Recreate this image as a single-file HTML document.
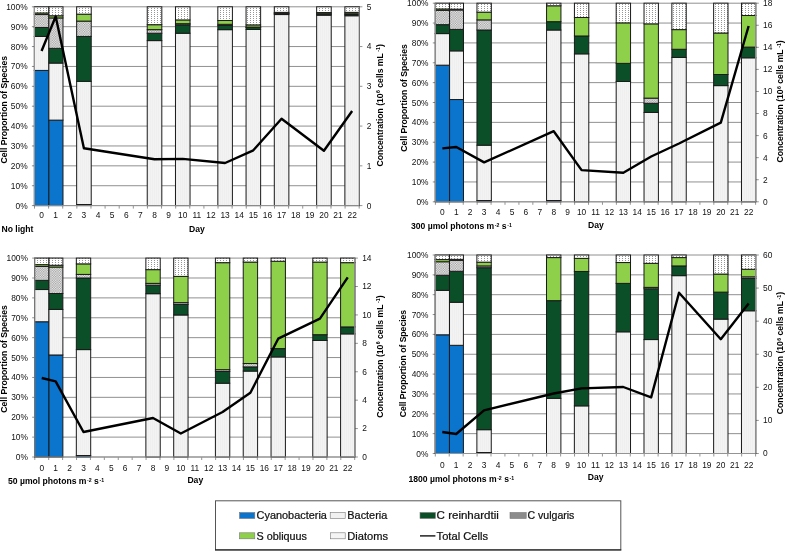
<!DOCTYPE html>
<html lang="en"><head><meta charset="utf-8"><title>Cell proportion of species</title>
<style>
html,body{margin:0;padding:0;background:#fff}
body{width:785px;height:551px;overflow:hidden}
svg{display:block}
svg text{font-family:"Liberation Sans",sans-serif;fill:#222}
.t{font-size:8.4px;fill:#111}
.b{font-size:8.6px;font-weight:bold;fill:#000}
.l{font-size:10.4px;fill:#111;stroke:#111;stroke-width:0.22px}
</style></head><body>
<svg width="785" height="551" viewBox="0 0 785 551">
<defs>
<pattern id="pb" width="2" height="2" patternUnits="userSpaceOnUse"><rect width="2" height="2" fill="#f3f3f3"/><rect width="0.6" height="2" fill="#ededed"/></pattern>
<pattern id="pv" width="2.4" height="2.4" patternUnits="userSpaceOnUse"><rect width="2.4" height="2.4" fill="#f0f0f0"/><rect width="1.2" height="1.2" fill="#9c9c9c"/><rect x="1.2" y="1.2" width="1.2" height="1.2" fill="#9c9c9c"/></pattern>
<pattern id="pd" width="3" height="2" patternUnits="userSpaceOnUse"><rect width="3" height="2" fill="#fff"/><rect x="1" y="0" width="1" height="1" fill="#969696"/></pattern>
</defs>
<rect width="785" height="551" fill="#fff"/>
<g id="p1">
<line x1="31.9" x2="359.2" y1="205.6" y2="205.6" stroke="#909090" stroke-width="1"/>
<line x1="31.9" x2="359.2" y1="185.72" y2="185.72" stroke="#909090" stroke-width="1"/>
<line x1="31.9" x2="359.2" y1="165.84" y2="165.84" stroke="#909090" stroke-width="1"/>
<line x1="31.9" x2="359.2" y1="145.96" y2="145.96" stroke="#909090" stroke-width="1"/>
<line x1="31.9" x2="359.2" y1="126.08" y2="126.08" stroke="#909090" stroke-width="1"/>
<line x1="31.9" x2="359.2" y1="106.2" y2="106.2" stroke="#909090" stroke-width="1"/>
<line x1="31.9" x2="359.2" y1="86.32" y2="86.32" stroke="#909090" stroke-width="1"/>
<line x1="31.9" x2="359.2" y1="66.44" y2="66.44" stroke="#909090" stroke-width="1"/>
<line x1="31.9" x2="359.2" y1="46.56" y2="46.56" stroke="#909090" stroke-width="1"/>
<line x1="31.9" x2="359.2" y1="26.68" y2="26.68" stroke="#909090" stroke-width="1"/>
<line x1="31.9" x2="359.2" y1="6.8" y2="6.8" stroke="#909090" stroke-width="1"/>
<line x1="34.5" x2="34.5" y1="205.6" y2="208.6" stroke="#949494" stroke-width="1"/>
<line x1="48.62" x2="48.62" y1="205.6" y2="208.6" stroke="#949494" stroke-width="1"/>
<line x1="62.73" x2="62.73" y1="205.6" y2="208.6" stroke="#949494" stroke-width="1"/>
<line x1="76.85" x2="76.85" y1="205.6" y2="208.6" stroke="#949494" stroke-width="1"/>
<line x1="90.97" x2="90.97" y1="205.6" y2="208.6" stroke="#949494" stroke-width="1"/>
<line x1="105.09" x2="105.09" y1="205.6" y2="208.6" stroke="#949494" stroke-width="1"/>
<line x1="119.2" x2="119.2" y1="205.6" y2="208.6" stroke="#949494" stroke-width="1"/>
<line x1="133.32" x2="133.32" y1="205.6" y2="208.6" stroke="#949494" stroke-width="1"/>
<line x1="147.44" x2="147.44" y1="205.6" y2="208.6" stroke="#949494" stroke-width="1"/>
<line x1="161.56" x2="161.56" y1="205.6" y2="208.6" stroke="#949494" stroke-width="1"/>
<line x1="175.67" x2="175.67" y1="205.6" y2="208.6" stroke="#949494" stroke-width="1"/>
<line x1="189.79" x2="189.79" y1="205.6" y2="208.6" stroke="#949494" stroke-width="1"/>
<line x1="203.91" x2="203.91" y1="205.6" y2="208.6" stroke="#949494" stroke-width="1"/>
<line x1="218.03" x2="218.03" y1="205.6" y2="208.6" stroke="#949494" stroke-width="1"/>
<line x1="232.14" x2="232.14" y1="205.6" y2="208.6" stroke="#949494" stroke-width="1"/>
<line x1="246.26" x2="246.26" y1="205.6" y2="208.6" stroke="#949494" stroke-width="1"/>
<line x1="260.38" x2="260.38" y1="205.6" y2="208.6" stroke="#949494" stroke-width="1"/>
<line x1="274.5" x2="274.5" y1="205.6" y2="208.6" stroke="#949494" stroke-width="1"/>
<line x1="288.61" x2="288.61" y1="205.6" y2="208.6" stroke="#949494" stroke-width="1"/>
<line x1="302.73" x2="302.73" y1="205.6" y2="208.6" stroke="#949494" stroke-width="1"/>
<line x1="316.85" x2="316.85" y1="205.6" y2="208.6" stroke="#949494" stroke-width="1"/>
<line x1="330.97" x2="330.97" y1="205.6" y2="208.6" stroke="#949494" stroke-width="1"/>
<line x1="345.08" x2="345.08" y1="205.6" y2="208.6" stroke="#949494" stroke-width="1"/>
<line x1="359.2" x2="359.2" y1="205.6" y2="208.6" stroke="#949494" stroke-width="1"/>
<line x1="359.2" x2="362.4" y1="205.6" y2="205.6" stroke="#949494" stroke-width="1"/>
<text x="366.7" y="208.5" class="t">0</text>
<line x1="359.2" x2="362.4" y1="165.84" y2="165.84" stroke="#949494" stroke-width="1"/>
<text x="366.7" y="168.74" class="t">1</text>
<line x1="359.2" x2="362.4" y1="126.08" y2="126.08" stroke="#949494" stroke-width="1"/>
<text x="366.7" y="128.98" class="t">2</text>
<line x1="359.2" x2="362.4" y1="86.32" y2="86.32" stroke="#949494" stroke-width="1"/>
<text x="366.7" y="89.22" class="t">3</text>
<line x1="359.2" x2="362.4" y1="46.56" y2="46.56" stroke="#949494" stroke-width="1"/>
<text x="366.7" y="49.46" class="t">4</text>
<line x1="359.2" x2="362.4" y1="6.8" y2="6.8" stroke="#949494" stroke-width="1"/>
<text x="366.7" y="9.7" class="t">5</text>
<text x="27.6" y="208.6" class="t" text-anchor="end">0%</text>
<text x="27.6" y="188.72" class="t" text-anchor="end">10%</text>
<text x="27.6" y="168.84" class="t" text-anchor="end">20%</text>
<text x="27.6" y="148.96" class="t" text-anchor="end">30%</text>
<text x="27.6" y="129.08" class="t" text-anchor="end">40%</text>
<text x="27.6" y="109.2" class="t" text-anchor="end">50%</text>
<text x="27.6" y="89.32" class="t" text-anchor="end">60%</text>
<text x="27.6" y="69.44" class="t" text-anchor="end">70%</text>
<text x="27.6" y="49.56" class="t" text-anchor="end">80%</text>
<text x="27.6" y="29.68" class="t" text-anchor="end">90%</text>
<text x="27.6" y="9.8" class="t" text-anchor="end">100%</text>
<text x="41.56" y="218.4" class="t" text-anchor="middle">0</text>
<text x="55.68" y="218.4" class="t" text-anchor="middle">1</text>
<text x="69.79" y="218.4" class="t" text-anchor="middle">2</text>
<text x="83.91" y="218.4" class="t" text-anchor="middle">3</text>
<text x="98.03" y="218.4" class="t" text-anchor="middle">4</text>
<text x="112.15" y="218.4" class="t" text-anchor="middle">5</text>
<text x="126.26" y="218.4" class="t" text-anchor="middle">6</text>
<text x="140.38" y="218.4" class="t" text-anchor="middle">7</text>
<text x="154.5" y="218.4" class="t" text-anchor="middle">8</text>
<text x="168.62" y="218.4" class="t" text-anchor="middle">9</text>
<text x="182.73" y="218.4" class="t" text-anchor="middle">10</text>
<text x="196.85" y="218.4" class="t" text-anchor="middle">11</text>
<text x="210.97" y="218.4" class="t" text-anchor="middle">12</text>
<text x="225.08" y="218.4" class="t" text-anchor="middle">13</text>
<text x="239.2" y="218.4" class="t" text-anchor="middle">14</text>
<text x="253.32" y="218.4" class="t" text-anchor="middle">15</text>
<text x="267.44" y="218.4" class="t" text-anchor="middle">16</text>
<text x="281.55" y="218.4" class="t" text-anchor="middle">17</text>
<text x="295.67" y="218.4" class="t" text-anchor="middle">18</text>
<text x="309.79" y="218.4" class="t" text-anchor="middle">19</text>
<text x="323.91" y="218.4" class="t" text-anchor="middle">20</text>
<text x="338.02" y="218.4" class="t" text-anchor="middle">21</text>
<text x="352.14" y="218.4" class="t" text-anchor="middle">22</text>
<rect x="34.3" y="70.42" width="14.57" height="135.18" fill="#0b74cc" stroke="#1a1a1a" stroke-width="1.0"/>
<rect x="34.3" y="36.42" width="14.57" height="33.99" fill="url(#pb)" stroke="#1a1a1a" stroke-width="1.0"/>
<rect x="34.3" y="27.48" width="14.57" height="8.95" fill="#0a4f27" stroke="#1a1a1a" stroke-width="1.0"/>
<rect x="34.3" y="14.55" width="14.57" height="12.92" fill="url(#pv)" stroke="#1a1a1a" stroke-width="1.0"/>
<rect x="34.3" y="12.96" width="14.57" height="1.59" fill="#8fd04a" stroke="#1a1a1a" stroke-width="1.0"/>
<rect x="34.3" y="6.8" width="14.57" height="6.16" fill="url(#pd)" stroke="#1a1a1a" stroke-width="1.0"/>
<rect x="48.87" y="120.12" width="14.12" height="85.48" fill="#0b74cc" stroke="#1a1a1a" stroke-width="1.0"/>
<rect x="48.87" y="63.06" width="14.12" height="57.06" fill="url(#pb)" stroke="#1a1a1a" stroke-width="1.0"/>
<rect x="48.87" y="48.35" width="14.12" height="14.71" fill="#0a4f27" stroke="#1a1a1a" stroke-width="1.0"/>
<rect x="48.87" y="17.93" width="14.12" height="30.42" fill="url(#pv)" stroke="#1a1a1a" stroke-width="1.0"/>
<rect x="48.87" y="15.75" width="14.12" height="2.19" fill="#8fd04a" stroke="#1a1a1a" stroke-width="1.0"/>
<rect x="48.87" y="6.8" width="14.12" height="8.95" fill="url(#pd)" stroke="#1a1a1a" stroke-width="1.0"/>
<rect x="76.65" y="204.51" width="14.57" height="1.09" fill="#0b74cc" stroke="#1a1a1a" stroke-width="1.0"/>
<rect x="76.65" y="81.35" width="14.57" height="123.16" fill="url(#pb)" stroke="#1a1a1a" stroke-width="1.0"/>
<rect x="76.65" y="36.42" width="14.57" height="44.93" fill="#0a4f27" stroke="#1a1a1a" stroke-width="1.0"/>
<rect x="76.65" y="21.11" width="14.57" height="15.31" fill="url(#pv)" stroke="#1a1a1a" stroke-width="1.0"/>
<rect x="76.65" y="14.16" width="14.57" height="6.96" fill="#8fd04a" stroke="#1a1a1a" stroke-width="1.0"/>
<rect x="76.65" y="6.8" width="14.57" height="7.36" fill="url(#pd)" stroke="#1a1a1a" stroke-width="1.0"/>
<rect x="147.24" y="40.6" width="14.57" height="165" fill="url(#pb)" stroke="#1a1a1a" stroke-width="1.0"/>
<rect x="147.24" y="33.24" width="14.57" height="7.36" fill="#0a4f27" stroke="#1a1a1a" stroke-width="1.0"/>
<rect x="147.24" y="29.66" width="14.57" height="3.58" fill="url(#pv)" stroke="#1a1a1a" stroke-width="1.0"/>
<rect x="147.24" y="24.69" width="14.57" height="4.97" fill="#8fd04a" stroke="#1a1a1a" stroke-width="1.0"/>
<rect x="147.24" y="6.8" width="14.57" height="17.89" fill="url(#pd)" stroke="#1a1a1a" stroke-width="1.0"/>
<rect x="175.47" y="33.24" width="14.57" height="172.36" fill="url(#pb)" stroke="#1a1a1a" stroke-width="1.0"/>
<rect x="175.47" y="24.89" width="14.57" height="8.35" fill="#0a4f27" stroke="#1a1a1a" stroke-width="1.0"/>
<rect x="175.47" y="23.7" width="14.57" height="1.19" fill="url(#pv)" stroke="#1a1a1a" stroke-width="1.0"/>
<rect x="175.47" y="19.92" width="14.57" height="3.78" fill="#8fd04a" stroke="#1a1a1a" stroke-width="1.0"/>
<rect x="175.47" y="6.8" width="14.57" height="13.12" fill="url(#pd)" stroke="#1a1a1a" stroke-width="1.0"/>
<rect x="217.83" y="29.66" width="14.57" height="175.94" fill="url(#pb)" stroke="#1a1a1a" stroke-width="1.0"/>
<rect x="217.83" y="25.49" width="14.57" height="4.17" fill="#0a4f27" stroke="#1a1a1a" stroke-width="1.0"/>
<rect x="217.83" y="24.29" width="14.57" height="1.19" fill="url(#pv)" stroke="#1a1a1a" stroke-width="1.0"/>
<rect x="217.83" y="20.52" width="14.57" height="3.78" fill="#8fd04a" stroke="#1a1a1a" stroke-width="1.0"/>
<rect x="217.83" y="6.8" width="14.57" height="13.72" fill="url(#pd)" stroke="#1a1a1a" stroke-width="1.0"/>
<rect x="246.06" y="29.46" width="14.57" height="176.14" fill="url(#pb)" stroke="#1a1a1a" stroke-width="1.0"/>
<rect x="246.06" y="27.48" width="14.57" height="1.99" fill="#0a4f27" stroke="#1a1a1a" stroke-width="1.0"/>
<rect x="246.06" y="27.08" width="14.57" height="0.4" fill="url(#pv)" stroke="#1a1a1a" stroke-width="1.0"/>
<rect x="246.06" y="24.89" width="14.57" height="2.19" fill="#8fd04a" stroke="#1a1a1a" stroke-width="1.0"/>
<rect x="246.06" y="6.8" width="14.57" height="18.09" fill="url(#pd)" stroke="#1a1a1a" stroke-width="1.0"/>
<rect x="274.3" y="14.55" width="14.57" height="191.05" fill="url(#pb)" stroke="#1a1a1a" stroke-width="1.0"/>
<rect x="274.3" y="13.56" width="14.57" height="0.99" fill="#0a4f27" stroke="#1a1a1a" stroke-width="1.0"/>
<rect x="274.3" y="13.16" width="14.57" height="0.4" fill="url(#pv)" stroke="#1a1a1a" stroke-width="1.0"/>
<rect x="274.3" y="12.37" width="14.57" height="0.8" fill="#8fd04a" stroke="#1a1a1a" stroke-width="1.0"/>
<rect x="274.3" y="6.8" width="14.57" height="5.57" fill="url(#pd)" stroke="#1a1a1a" stroke-width="1.0"/>
<rect x="316.65" y="15.15" width="14.57" height="190.45" fill="url(#pb)" stroke="#1a1a1a" stroke-width="1.0"/>
<rect x="316.65" y="14.16" width="14.57" height="0.99" fill="#0a4f27" stroke="#1a1a1a" stroke-width="1.0"/>
<rect x="316.65" y="13.76" width="14.57" height="0.4" fill="url(#pv)" stroke="#1a1a1a" stroke-width="1.0"/>
<rect x="316.65" y="12.57" width="14.57" height="1.19" fill="#8fd04a" stroke="#1a1a1a" stroke-width="1.0"/>
<rect x="316.65" y="6.8" width="14.57" height="5.77" fill="url(#pd)" stroke="#1a1a1a" stroke-width="1.0"/>
<rect x="344.88" y="15.75" width="14.57" height="189.85" fill="url(#pb)" stroke="#1a1a1a" stroke-width="1.0"/>
<rect x="344.88" y="14.55" width="14.57" height="1.19" fill="#0a4f27" stroke="#1a1a1a" stroke-width="1.0"/>
<rect x="344.88" y="13.76" width="14.57" height="0.8" fill="url(#pv)" stroke="#1a1a1a" stroke-width="1.0"/>
<rect x="344.88" y="12.37" width="14.57" height="1.39" fill="#8fd04a" stroke="#1a1a1a" stroke-width="1.0"/>
<rect x="344.88" y="6.8" width="14.57" height="5.57" fill="url(#pd)" stroke="#1a1a1a" stroke-width="1.0"/>
<line x1="34.5" x2="34.5" y1="6.8" y2="205.6" stroke="#949494" stroke-width="1"/>
<line x1="359.2" x2="359.2" y1="6.8" y2="205.6" stroke="#949494" stroke-width="1"/>
<line x1="34.5" x2="359.2" y1="205.6" y2="205.6" stroke="#949494" stroke-width="1"/>
<polyline points="41.56,51 55.68,16.5 83.91,148.2 154.5,159.2 182.73,158.9 225.08,163 253.32,150.3 281.55,118.7 323.91,150.8 352.14,111" fill="none" stroke="#000" stroke-width="2.4" stroke-linejoin="round" stroke-linecap="butt"/>
<text transform="translate(6.6,109.7) rotate(-90)" class="b" text-anchor="middle">Cell Proportion of Species</text>
<text transform="translate(382.9,105.3) rotate(-90)" class="b" text-anchor="middle">Concentration (10<tspan dy="-2.5" dx="0.4" font-size="5.2">6</tspan><tspan dy="2.5"> cells mL</tspan><tspan dy="-2.5" dx="1.6" font-size="5.2">-1</tspan><tspan dy="2.5">)</tspan></text>
<text x="1.5" y="232.2" class="b">No light</text>
<text x="197" y="231.9" class="b" text-anchor="middle">Day</text>
</g>
<g id="p2">
<line x1="432.8" x2="755.6" y1="201.8" y2="201.8" stroke="#909090" stroke-width="1"/>
<line x1="432.8" x2="755.6" y1="181.94" y2="181.94" stroke="#909090" stroke-width="1"/>
<line x1="432.8" x2="755.6" y1="162.08" y2="162.08" stroke="#909090" stroke-width="1"/>
<line x1="432.8" x2="755.6" y1="142.22" y2="142.22" stroke="#909090" stroke-width="1"/>
<line x1="432.8" x2="755.6" y1="122.36" y2="122.36" stroke="#909090" stroke-width="1"/>
<line x1="432.8" x2="755.6" y1="102.5" y2="102.5" stroke="#909090" stroke-width="1"/>
<line x1="432.8" x2="755.6" y1="82.64" y2="82.64" stroke="#909090" stroke-width="1"/>
<line x1="432.8" x2="755.6" y1="62.78" y2="62.78" stroke="#909090" stroke-width="1"/>
<line x1="432.8" x2="755.6" y1="42.92" y2="42.92" stroke="#909090" stroke-width="1"/>
<line x1="432.8" x2="755.6" y1="23.06" y2="23.06" stroke="#909090" stroke-width="1"/>
<line x1="432.8" x2="755.6" y1="3.2" y2="3.2" stroke="#909090" stroke-width="1"/>
<line x1="435.4" x2="435.4" y1="201.8" y2="204.8" stroke="#949494" stroke-width="1"/>
<line x1="449.32" x2="449.32" y1="201.8" y2="204.8" stroke="#949494" stroke-width="1"/>
<line x1="463.24" x2="463.24" y1="201.8" y2="204.8" stroke="#949494" stroke-width="1"/>
<line x1="477.17" x2="477.17" y1="201.8" y2="204.8" stroke="#949494" stroke-width="1"/>
<line x1="491.09" x2="491.09" y1="201.8" y2="204.8" stroke="#949494" stroke-width="1"/>
<line x1="505.01" x2="505.01" y1="201.8" y2="204.8" stroke="#949494" stroke-width="1"/>
<line x1="518.93" x2="518.93" y1="201.8" y2="204.8" stroke="#949494" stroke-width="1"/>
<line x1="532.85" x2="532.85" y1="201.8" y2="204.8" stroke="#949494" stroke-width="1"/>
<line x1="546.77" x2="546.77" y1="201.8" y2="204.8" stroke="#949494" stroke-width="1"/>
<line x1="560.7" x2="560.7" y1="201.8" y2="204.8" stroke="#949494" stroke-width="1"/>
<line x1="574.62" x2="574.62" y1="201.8" y2="204.8" stroke="#949494" stroke-width="1"/>
<line x1="588.54" x2="588.54" y1="201.8" y2="204.8" stroke="#949494" stroke-width="1"/>
<line x1="602.46" x2="602.46" y1="201.8" y2="204.8" stroke="#949494" stroke-width="1"/>
<line x1="616.38" x2="616.38" y1="201.8" y2="204.8" stroke="#949494" stroke-width="1"/>
<line x1="630.3" x2="630.3" y1="201.8" y2="204.8" stroke="#949494" stroke-width="1"/>
<line x1="644.23" x2="644.23" y1="201.8" y2="204.8" stroke="#949494" stroke-width="1"/>
<line x1="658.15" x2="658.15" y1="201.8" y2="204.8" stroke="#949494" stroke-width="1"/>
<line x1="672.07" x2="672.07" y1="201.8" y2="204.8" stroke="#949494" stroke-width="1"/>
<line x1="685.99" x2="685.99" y1="201.8" y2="204.8" stroke="#949494" stroke-width="1"/>
<line x1="699.91" x2="699.91" y1="201.8" y2="204.8" stroke="#949494" stroke-width="1"/>
<line x1="713.83" x2="713.83" y1="201.8" y2="204.8" stroke="#949494" stroke-width="1"/>
<line x1="727.76" x2="727.76" y1="201.8" y2="204.8" stroke="#949494" stroke-width="1"/>
<line x1="741.68" x2="741.68" y1="201.8" y2="204.8" stroke="#949494" stroke-width="1"/>
<line x1="755.6" x2="755.6" y1="201.8" y2="204.8" stroke="#949494" stroke-width="1"/>
<line x1="755.6" x2="758.8" y1="201.8" y2="201.8" stroke="#949494" stroke-width="1"/>
<text x="763.1" y="204.7" class="t">0</text>
<line x1="755.6" x2="758.8" y1="179.73" y2="179.73" stroke="#949494" stroke-width="1"/>
<text x="763.1" y="182.63" class="t">2</text>
<line x1="755.6" x2="758.8" y1="157.67" y2="157.67" stroke="#949494" stroke-width="1"/>
<text x="763.1" y="160.57" class="t">4</text>
<line x1="755.6" x2="758.8" y1="135.6" y2="135.6" stroke="#949494" stroke-width="1"/>
<text x="763.1" y="138.5" class="t">6</text>
<line x1="755.6" x2="758.8" y1="113.53" y2="113.53" stroke="#949494" stroke-width="1"/>
<text x="763.1" y="116.43" class="t">8</text>
<line x1="755.6" x2="758.8" y1="91.47" y2="91.47" stroke="#949494" stroke-width="1"/>
<text x="763.1" y="94.37" class="t">10</text>
<line x1="755.6" x2="758.8" y1="69.4" y2="69.4" stroke="#949494" stroke-width="1"/>
<text x="763.1" y="72.3" class="t">12</text>
<line x1="755.6" x2="758.8" y1="47.33" y2="47.33" stroke="#949494" stroke-width="1"/>
<text x="763.1" y="50.23" class="t">14</text>
<line x1="755.6" x2="758.8" y1="25.27" y2="25.27" stroke="#949494" stroke-width="1"/>
<text x="763.1" y="28.17" class="t">16</text>
<line x1="755.6" x2="758.8" y1="3.2" y2="3.2" stroke="#949494" stroke-width="1"/>
<text x="763.1" y="6.1" class="t">18</text>
<text x="428.5" y="204.8" class="t" text-anchor="end">0%</text>
<text x="428.5" y="184.94" class="t" text-anchor="end">10%</text>
<text x="428.5" y="165.08" class="t" text-anchor="end">20%</text>
<text x="428.5" y="145.22" class="t" text-anchor="end">30%</text>
<text x="428.5" y="125.36" class="t" text-anchor="end">40%</text>
<text x="428.5" y="105.5" class="t" text-anchor="end">50%</text>
<text x="428.5" y="85.64" class="t" text-anchor="end">60%</text>
<text x="428.5" y="65.78" class="t" text-anchor="end">70%</text>
<text x="428.5" y="45.92" class="t" text-anchor="end">80%</text>
<text x="428.5" y="26.06" class="t" text-anchor="end">90%</text>
<text x="428.5" y="6.2" class="t" text-anchor="end">100%</text>
<text x="442.36" y="215" class="t" text-anchor="middle">0</text>
<text x="456.28" y="215" class="t" text-anchor="middle">1</text>
<text x="470.2" y="215" class="t" text-anchor="middle">2</text>
<text x="484.13" y="215" class="t" text-anchor="middle">3</text>
<text x="498.05" y="215" class="t" text-anchor="middle">4</text>
<text x="511.97" y="215" class="t" text-anchor="middle">5</text>
<text x="525.89" y="215" class="t" text-anchor="middle">6</text>
<text x="539.81" y="215" class="t" text-anchor="middle">7</text>
<text x="553.73" y="215" class="t" text-anchor="middle">8</text>
<text x="567.66" y="215" class="t" text-anchor="middle">9</text>
<text x="581.58" y="215" class="t" text-anchor="middle">10</text>
<text x="595.5" y="215" class="t" text-anchor="middle">11</text>
<text x="609.42" y="215" class="t" text-anchor="middle">12</text>
<text x="623.34" y="215" class="t" text-anchor="middle">13</text>
<text x="637.27" y="215" class="t" text-anchor="middle">14</text>
<text x="651.19" y="215" class="t" text-anchor="middle">15</text>
<text x="665.11" y="215" class="t" text-anchor="middle">16</text>
<text x="679.03" y="215" class="t" text-anchor="middle">17</text>
<text x="692.95" y="215" class="t" text-anchor="middle">18</text>
<text x="706.87" y="215" class="t" text-anchor="middle">19</text>
<text x="720.8" y="215" class="t" text-anchor="middle">20</text>
<text x="734.72" y="215" class="t" text-anchor="middle">21</text>
<text x="748.64" y="215" class="t" text-anchor="middle">22</text>
<rect x="435.2" y="65.16" width="14.37" height="136.64" fill="#0b74cc" stroke="#1a1a1a" stroke-width="1.0"/>
<rect x="435.2" y="33.59" width="14.37" height="31.58" fill="url(#pb)" stroke="#1a1a1a" stroke-width="1.0"/>
<rect x="435.2" y="24.65" width="14.37" height="8.94" fill="#0a4f27" stroke="#1a1a1a" stroke-width="1.0"/>
<rect x="435.2" y="10.35" width="14.37" height="14.3" fill="url(#pv)" stroke="#1a1a1a" stroke-width="1.0"/>
<rect x="435.2" y="8.96" width="14.37" height="1.39" fill="#8fd04a" stroke="#1a1a1a" stroke-width="1.0"/>
<rect x="435.2" y="3.2" width="14.37" height="5.76" fill="url(#pd)" stroke="#1a1a1a" stroke-width="1.0"/>
<rect x="449.57" y="99.52" width="13.92" height="102.28" fill="#0b74cc" stroke="#1a1a1a" stroke-width="1.0"/>
<rect x="449.57" y="50.86" width="13.92" height="48.66" fill="url(#pb)" stroke="#1a1a1a" stroke-width="1.0"/>
<rect x="449.57" y="29.42" width="13.92" height="21.45" fill="#0a4f27" stroke="#1a1a1a" stroke-width="1.0"/>
<rect x="449.57" y="9.95" width="13.92" height="19.46" fill="url(#pv)" stroke="#1a1a1a" stroke-width="1.0"/>
<rect x="449.57" y="9.16" width="13.92" height="0.79" fill="#8fd04a" stroke="#1a1a1a" stroke-width="1.0"/>
<rect x="449.57" y="3.2" width="13.92" height="5.96" fill="url(#pd)" stroke="#1a1a1a" stroke-width="1.0"/>
<rect x="476.97" y="200.51" width="14.37" height="1.29" fill="#0b74cc" stroke="#1a1a1a" stroke-width="1.0"/>
<rect x="476.97" y="145.2" width="14.37" height="55.31" fill="url(#pb)" stroke="#1a1a1a" stroke-width="1.0"/>
<rect x="476.97" y="30.01" width="14.37" height="115.19" fill="#0a4f27" stroke="#1a1a1a" stroke-width="1.0"/>
<rect x="476.97" y="19.88" width="14.37" height="10.13" fill="url(#pv)" stroke="#1a1a1a" stroke-width="1.0"/>
<rect x="476.97" y="12.14" width="14.37" height="7.75" fill="#8fd04a" stroke="#1a1a1a" stroke-width="1.0"/>
<rect x="476.97" y="3.2" width="14.37" height="8.94" fill="url(#pd)" stroke="#1a1a1a" stroke-width="1.0"/>
<rect x="546.57" y="200.51" width="14.37" height="1.29" fill="#0b74cc" stroke="#1a1a1a" stroke-width="1.0"/>
<rect x="546.57" y="30.01" width="14.37" height="170.5" fill="url(#pb)" stroke="#1a1a1a" stroke-width="1.0"/>
<rect x="546.57" y="21.67" width="14.37" height="8.34" fill="#0a4f27" stroke="#1a1a1a" stroke-width="1.0"/>
<rect x="546.57" y="5.78" width="14.37" height="15.89" fill="#8fd04a" stroke="#1a1a1a" stroke-width="1.0"/>
<rect x="546.57" y="3.2" width="14.37" height="2.58" fill="url(#pd)" stroke="#1a1a1a" stroke-width="1.0"/>
<rect x="574.42" y="53.84" width="14.37" height="147.96" fill="url(#pb)" stroke="#1a1a1a" stroke-width="1.0"/>
<rect x="574.42" y="35.97" width="14.37" height="17.87" fill="#0a4f27" stroke="#1a1a1a" stroke-width="1.0"/>
<rect x="574.42" y="17.5" width="14.37" height="18.47" fill="#8fd04a" stroke="#1a1a1a" stroke-width="1.0"/>
<rect x="574.42" y="3.2" width="14.37" height="14.3" fill="url(#pd)" stroke="#1a1a1a" stroke-width="1.0"/>
<rect x="616.18" y="81.45" width="14.37" height="120.35" fill="url(#pb)" stroke="#1a1a1a" stroke-width="1.0"/>
<rect x="616.18" y="63.38" width="14.37" height="18.07" fill="#0a4f27" stroke="#1a1a1a" stroke-width="1.0"/>
<rect x="616.18" y="22.86" width="14.37" height="40.51" fill="#8fd04a" stroke="#1a1a1a" stroke-width="1.0"/>
<rect x="616.18" y="3.2" width="14.37" height="19.66" fill="url(#pd)" stroke="#1a1a1a" stroke-width="1.0"/>
<rect x="644.03" y="112.43" width="14.37" height="89.37" fill="url(#pb)" stroke="#1a1a1a" stroke-width="1.0"/>
<rect x="644.03" y="103.29" width="14.37" height="9.14" fill="#0a4f27" stroke="#1a1a1a" stroke-width="1.0"/>
<rect x="644.03" y="98.13" width="14.37" height="5.16" fill="url(#pv)" stroke="#1a1a1a" stroke-width="1.0"/>
<rect x="644.03" y="23.85" width="14.37" height="74.28" fill="#8fd04a" stroke="#1a1a1a" stroke-width="1.0"/>
<rect x="644.03" y="3.2" width="14.37" height="20.65" fill="url(#pd)" stroke="#1a1a1a" stroke-width="1.0"/>
<rect x="671.87" y="57.42" width="14.37" height="144.38" fill="url(#pb)" stroke="#1a1a1a" stroke-width="1.0"/>
<rect x="671.87" y="49.28" width="14.37" height="8.14" fill="#0a4f27" stroke="#1a1a1a" stroke-width="1.0"/>
<rect x="671.87" y="29.61" width="14.37" height="19.66" fill="#8fd04a" stroke="#1a1a1a" stroke-width="1.0"/>
<rect x="671.87" y="3.2" width="14.37" height="26.41" fill="url(#pd)" stroke="#1a1a1a" stroke-width="1.0"/>
<rect x="713.63" y="85.62" width="14.37" height="116.18" fill="url(#pb)" stroke="#1a1a1a" stroke-width="1.0"/>
<rect x="713.63" y="74.5" width="14.37" height="11.12" fill="#0a4f27" stroke="#1a1a1a" stroke-width="1.0"/>
<rect x="713.63" y="32.99" width="14.37" height="41.51" fill="#8fd04a" stroke="#1a1a1a" stroke-width="1.0"/>
<rect x="713.63" y="3.2" width="14.37" height="29.79" fill="url(#pd)" stroke="#1a1a1a" stroke-width="1.0"/>
<rect x="741.48" y="57.81" width="14.37" height="143.99" fill="url(#pb)" stroke="#1a1a1a" stroke-width="1.0"/>
<rect x="741.48" y="47.09" width="14.37" height="10.72" fill="#0a4f27" stroke="#1a1a1a" stroke-width="1.0"/>
<rect x="741.48" y="15.51" width="14.37" height="31.58" fill="#8fd04a" stroke="#1a1a1a" stroke-width="1.0"/>
<rect x="741.48" y="3.2" width="14.37" height="12.31" fill="url(#pd)" stroke="#1a1a1a" stroke-width="1.0"/>
<line x1="435.4" x2="435.4" y1="3.2" y2="201.8" stroke="#949494" stroke-width="1"/>
<line x1="755.6" x2="755.6" y1="3.2" y2="201.8" stroke="#949494" stroke-width="1"/>
<line x1="435.4" x2="755.6" y1="201.8" y2="201.8" stroke="#949494" stroke-width="1"/>
<polyline points="442.36,148.4 456.28,147 484.13,162.4 553.73,131.2 581.58,170.1 623.34,172.8 651.19,156.5 679.03,143.5 720.8,122.6 748.64,26" fill="none" stroke="#000" stroke-width="2.4" stroke-linejoin="round" stroke-linecap="butt"/>
<text transform="translate(406.9,98) rotate(-90)" class="b" text-anchor="middle">Cell Proportion of Species</text>
<text transform="translate(783,101.4) rotate(-90)" class="b" text-anchor="middle">Concentration (10<tspan dy="-2.5" dx="0.4" font-size="5.2">6</tspan><tspan dy="2.5"> cells mL</tspan><tspan dy="-2.5" dx="1.6" font-size="5.2">-1</tspan><tspan dy="2.5">)</tspan></text>
<text x="411" y="229.2" class="b">300 µmol photons m<tspan dy="-2.6" font-size="5.2" dx="0.6">-2</tspan><tspan dy="2.6"> s</tspan><tspan dy="-2.6" font-size="5.2" dx="0.6">-1</tspan></text>
<text x="596" y="228.1" class="b" text-anchor="middle">Day</text>
</g>
<g id="p3">
<line x1="32.2" x2="354.7" y1="457" y2="457" stroke="#909090" stroke-width="1"/>
<line x1="32.2" x2="354.7" y1="437.11" y2="437.11" stroke="#909090" stroke-width="1"/>
<line x1="32.2" x2="354.7" y1="417.22" y2="417.22" stroke="#909090" stroke-width="1"/>
<line x1="32.2" x2="354.7" y1="397.33" y2="397.33" stroke="#909090" stroke-width="1"/>
<line x1="32.2" x2="354.7" y1="377.44" y2="377.44" stroke="#909090" stroke-width="1"/>
<line x1="32.2" x2="354.7" y1="357.55" y2="357.55" stroke="#909090" stroke-width="1"/>
<line x1="32.2" x2="354.7" y1="337.66" y2="337.66" stroke="#909090" stroke-width="1"/>
<line x1="32.2" x2="354.7" y1="317.77" y2="317.77" stroke="#909090" stroke-width="1"/>
<line x1="32.2" x2="354.7" y1="297.88" y2="297.88" stroke="#909090" stroke-width="1"/>
<line x1="32.2" x2="354.7" y1="277.99" y2="277.99" stroke="#909090" stroke-width="1"/>
<line x1="32.2" x2="354.7" y1="258.1" y2="258.1" stroke="#909090" stroke-width="1"/>
<line x1="34.8" x2="34.8" y1="457" y2="460" stroke="#949494" stroke-width="1"/>
<line x1="48.71" x2="48.71" y1="457" y2="460" stroke="#949494" stroke-width="1"/>
<line x1="62.62" x2="62.62" y1="457" y2="460" stroke="#949494" stroke-width="1"/>
<line x1="76.53" x2="76.53" y1="457" y2="460" stroke="#949494" stroke-width="1"/>
<line x1="90.43" x2="90.43" y1="457" y2="460" stroke="#949494" stroke-width="1"/>
<line x1="104.34" x2="104.34" y1="457" y2="460" stroke="#949494" stroke-width="1"/>
<line x1="118.25" x2="118.25" y1="457" y2="460" stroke="#949494" stroke-width="1"/>
<line x1="132.16" x2="132.16" y1="457" y2="460" stroke="#949494" stroke-width="1"/>
<line x1="146.07" x2="146.07" y1="457" y2="460" stroke="#949494" stroke-width="1"/>
<line x1="159.98" x2="159.98" y1="457" y2="460" stroke="#949494" stroke-width="1"/>
<line x1="173.89" x2="173.89" y1="457" y2="460" stroke="#949494" stroke-width="1"/>
<line x1="187.8" x2="187.8" y1="457" y2="460" stroke="#949494" stroke-width="1"/>
<line x1="201.7" x2="201.7" y1="457" y2="460" stroke="#949494" stroke-width="1"/>
<line x1="215.61" x2="215.61" y1="457" y2="460" stroke="#949494" stroke-width="1"/>
<line x1="229.52" x2="229.52" y1="457" y2="460" stroke="#949494" stroke-width="1"/>
<line x1="243.43" x2="243.43" y1="457" y2="460" stroke="#949494" stroke-width="1"/>
<line x1="257.34" x2="257.34" y1="457" y2="460" stroke="#949494" stroke-width="1"/>
<line x1="271.25" x2="271.25" y1="457" y2="460" stroke="#949494" stroke-width="1"/>
<line x1="285.16" x2="285.16" y1="457" y2="460" stroke="#949494" stroke-width="1"/>
<line x1="299.07" x2="299.07" y1="457" y2="460" stroke="#949494" stroke-width="1"/>
<line x1="312.97" x2="312.97" y1="457" y2="460" stroke="#949494" stroke-width="1"/>
<line x1="326.88" x2="326.88" y1="457" y2="460" stroke="#949494" stroke-width="1"/>
<line x1="340.79" x2="340.79" y1="457" y2="460" stroke="#949494" stroke-width="1"/>
<line x1="354.7" x2="354.7" y1="457" y2="460" stroke="#949494" stroke-width="1"/>
<line x1="354.7" x2="357.9" y1="457" y2="457" stroke="#949494" stroke-width="1"/>
<text x="362.2" y="459.9" class="t">0</text>
<line x1="354.7" x2="357.9" y1="428.59" y2="428.59" stroke="#949494" stroke-width="1"/>
<text x="362.2" y="431.49" class="t">2</text>
<line x1="354.7" x2="357.9" y1="400.17" y2="400.17" stroke="#949494" stroke-width="1"/>
<text x="362.2" y="403.07" class="t">4</text>
<line x1="354.7" x2="357.9" y1="371.76" y2="371.76" stroke="#949494" stroke-width="1"/>
<text x="362.2" y="374.66" class="t">6</text>
<line x1="354.7" x2="357.9" y1="343.34" y2="343.34" stroke="#949494" stroke-width="1"/>
<text x="362.2" y="346.24" class="t">8</text>
<line x1="354.7" x2="357.9" y1="314.93" y2="314.93" stroke="#949494" stroke-width="1"/>
<text x="362.2" y="317.83" class="t">10</text>
<line x1="354.7" x2="357.9" y1="286.51" y2="286.51" stroke="#949494" stroke-width="1"/>
<text x="362.2" y="289.41" class="t">12</text>
<line x1="354.7" x2="357.9" y1="258.1" y2="258.1" stroke="#949494" stroke-width="1"/>
<text x="362.2" y="261" class="t">14</text>
<text x="27.9" y="460" class="t" text-anchor="end">0%</text>
<text x="27.9" y="440.11" class="t" text-anchor="end">10%</text>
<text x="27.9" y="420.22" class="t" text-anchor="end">20%</text>
<text x="27.9" y="400.33" class="t" text-anchor="end">30%</text>
<text x="27.9" y="380.44" class="t" text-anchor="end">40%</text>
<text x="27.9" y="360.55" class="t" text-anchor="end">50%</text>
<text x="27.9" y="340.66" class="t" text-anchor="end">60%</text>
<text x="27.9" y="320.77" class="t" text-anchor="end">70%</text>
<text x="27.9" y="300.88" class="t" text-anchor="end">80%</text>
<text x="27.9" y="280.99" class="t" text-anchor="end">90%</text>
<text x="27.9" y="261.1" class="t" text-anchor="end">100%</text>
<text x="41.75" y="470.5" class="t" text-anchor="middle">0</text>
<text x="55.66" y="470.5" class="t" text-anchor="middle">1</text>
<text x="69.57" y="470.5" class="t" text-anchor="middle">2</text>
<text x="83.48" y="470.5" class="t" text-anchor="middle">3</text>
<text x="97.39" y="470.5" class="t" text-anchor="middle">4</text>
<text x="111.3" y="470.5" class="t" text-anchor="middle">5</text>
<text x="125.21" y="470.5" class="t" text-anchor="middle">6</text>
<text x="139.12" y="470.5" class="t" text-anchor="middle">7</text>
<text x="153.02" y="470.5" class="t" text-anchor="middle">8</text>
<text x="166.93" y="470.5" class="t" text-anchor="middle">9</text>
<text x="180.84" y="470.5" class="t" text-anchor="middle">10</text>
<text x="194.75" y="470.5" class="t" text-anchor="middle">11</text>
<text x="208.66" y="470.5" class="t" text-anchor="middle">12</text>
<text x="222.57" y="470.5" class="t" text-anchor="middle">13</text>
<text x="236.48" y="470.5" class="t" text-anchor="middle">14</text>
<text x="250.38" y="470.5" class="t" text-anchor="middle">15</text>
<text x="264.29" y="470.5" class="t" text-anchor="middle">16</text>
<text x="278.2" y="470.5" class="t" text-anchor="middle">17</text>
<text x="292.11" y="470.5" class="t" text-anchor="middle">18</text>
<text x="306.02" y="470.5" class="t" text-anchor="middle">19</text>
<text x="319.93" y="470.5" class="t" text-anchor="middle">20</text>
<text x="333.84" y="470.5" class="t" text-anchor="middle">21</text>
<text x="347.75" y="470.5" class="t" text-anchor="middle">22</text>
<rect x="34.6" y="321.75" width="14.36" height="135.25" fill="#0b74cc" stroke="#1a1a1a" stroke-width="1.0"/>
<rect x="34.6" y="289.53" width="14.36" height="32.22" fill="url(#pb)" stroke="#1a1a1a" stroke-width="1.0"/>
<rect x="34.6" y="280.38" width="14.36" height="9.15" fill="#0a4f27" stroke="#1a1a1a" stroke-width="1.0"/>
<rect x="34.6" y="266.45" width="14.36" height="13.92" fill="url(#pv)" stroke="#1a1a1a" stroke-width="1.0"/>
<rect x="34.6" y="264.66" width="14.36" height="1.79" fill="#8fd04a" stroke="#1a1a1a" stroke-width="1.0"/>
<rect x="34.6" y="258.1" width="14.36" height="6.56" fill="url(#pd)" stroke="#1a1a1a" stroke-width="1.0"/>
<rect x="48.96" y="354.96" width="13.91" height="102.04" fill="#0b74cc" stroke="#1a1a1a" stroke-width="1.0"/>
<rect x="48.96" y="309.42" width="13.91" height="45.55" fill="url(#pb)" stroke="#1a1a1a" stroke-width="1.0"/>
<rect x="48.96" y="293.5" width="13.91" height="15.91" fill="#0a4f27" stroke="#1a1a1a" stroke-width="1.0"/>
<rect x="48.96" y="267.05" width="13.91" height="26.45" fill="url(#pv)" stroke="#1a1a1a" stroke-width="1.0"/>
<rect x="48.96" y="265.26" width="13.91" height="1.79" fill="#8fd04a" stroke="#1a1a1a" stroke-width="1.0"/>
<rect x="48.96" y="258.1" width="13.91" height="7.16" fill="url(#pd)" stroke="#1a1a1a" stroke-width="1.0"/>
<rect x="76.33" y="455.51" width="14.36" height="1.49" fill="#0b74cc" stroke="#1a1a1a" stroke-width="1.0"/>
<rect x="76.33" y="349.59" width="14.36" height="105.91" fill="url(#pb)" stroke="#1a1a1a" stroke-width="1.0"/>
<rect x="76.33" y="277.99" width="14.36" height="71.6" fill="#0a4f27" stroke="#1a1a1a" stroke-width="1.0"/>
<rect x="76.33" y="274.41" width="14.36" height="3.58" fill="url(#pv)" stroke="#1a1a1a" stroke-width="1.0"/>
<rect x="76.33" y="263.87" width="14.36" height="10.54" fill="#8fd04a" stroke="#1a1a1a" stroke-width="1.0"/>
<rect x="76.33" y="258.1" width="14.36" height="5.77" fill="url(#pd)" stroke="#1a1a1a" stroke-width="1.0"/>
<rect x="145.87" y="293.7" width="14.36" height="163.3" fill="url(#pb)" stroke="#1a1a1a" stroke-width="1.0"/>
<rect x="145.87" y="285.15" width="14.36" height="8.55" fill="#0a4f27" stroke="#1a1a1a" stroke-width="1.0"/>
<rect x="145.87" y="283.36" width="14.36" height="1.79" fill="url(#pv)" stroke="#1a1a1a" stroke-width="1.0"/>
<rect x="145.87" y="269.64" width="14.36" height="13.72" fill="#8fd04a" stroke="#1a1a1a" stroke-width="1.0"/>
<rect x="145.87" y="258.1" width="14.36" height="11.54" fill="url(#pd)" stroke="#1a1a1a" stroke-width="1.0"/>
<rect x="173.69" y="314.99" width="14.36" height="142.01" fill="url(#pb)" stroke="#1a1a1a" stroke-width="1.0"/>
<rect x="173.69" y="304.44" width="14.36" height="10.54" fill="#0a4f27" stroke="#1a1a1a" stroke-width="1.0"/>
<rect x="173.69" y="302.65" width="14.36" height="1.79" fill="url(#pv)" stroke="#1a1a1a" stroke-width="1.0"/>
<rect x="173.69" y="276.4" width="14.36" height="26.25" fill="#8fd04a" stroke="#1a1a1a" stroke-width="1.0"/>
<rect x="173.69" y="258.1" width="14.36" height="18.3" fill="url(#pd)" stroke="#1a1a1a" stroke-width="1.0"/>
<rect x="215.41" y="383.21" width="14.36" height="73.79" fill="url(#pb)" stroke="#1a1a1a" stroke-width="1.0"/>
<rect x="215.41" y="371.47" width="14.36" height="11.74" fill="#0a4f27" stroke="#1a1a1a" stroke-width="1.0"/>
<rect x="215.41" y="369.68" width="14.36" height="1.79" fill="url(#pv)" stroke="#1a1a1a" stroke-width="1.0"/>
<rect x="215.41" y="262.67" width="14.36" height="107.01" fill="#8fd04a" stroke="#1a1a1a" stroke-width="1.0"/>
<rect x="215.41" y="258.1" width="14.36" height="4.57" fill="url(#pd)" stroke="#1a1a1a" stroke-width="1.0"/>
<rect x="243.23" y="371.08" width="14.36" height="85.92" fill="url(#pb)" stroke="#1a1a1a" stroke-width="1.0"/>
<rect x="243.23" y="366.9" width="14.36" height="4.18" fill="#0a4f27" stroke="#1a1a1a" stroke-width="1.0"/>
<rect x="243.23" y="363.52" width="14.36" height="3.38" fill="url(#pv)" stroke="#1a1a1a" stroke-width="1.0"/>
<rect x="243.23" y="262.08" width="14.36" height="101.44" fill="#8fd04a" stroke="#1a1a1a" stroke-width="1.0"/>
<rect x="243.23" y="258.1" width="14.36" height="3.98" fill="url(#pd)" stroke="#1a1a1a" stroke-width="1.0"/>
<rect x="271.05" y="356.95" width="14.36" height="100.05" fill="url(#pb)" stroke="#1a1a1a" stroke-width="1.0"/>
<rect x="271.05" y="348.6" width="14.36" height="8.35" fill="#0a4f27" stroke="#1a1a1a" stroke-width="1.0"/>
<rect x="271.05" y="261.28" width="14.36" height="87.32" fill="#8fd04a" stroke="#1a1a1a" stroke-width="1.0"/>
<rect x="271.05" y="258.1" width="14.36" height="3.18" fill="url(#pd)" stroke="#1a1a1a" stroke-width="1.0"/>
<rect x="312.77" y="340.44" width="14.36" height="116.56" fill="url(#pb)" stroke="#1a1a1a" stroke-width="1.0"/>
<rect x="312.77" y="334.68" width="14.36" height="5.77" fill="#0a4f27" stroke="#1a1a1a" stroke-width="1.0"/>
<rect x="312.77" y="262.08" width="14.36" height="72.6" fill="#8fd04a" stroke="#1a1a1a" stroke-width="1.0"/>
<rect x="312.77" y="258.1" width="14.36" height="3.98" fill="url(#pd)" stroke="#1a1a1a" stroke-width="1.0"/>
<rect x="340.59" y="333.88" width="14.36" height="123.12" fill="url(#pb)" stroke="#1a1a1a" stroke-width="1.0"/>
<rect x="340.59" y="326.92" width="14.36" height="6.96" fill="#0a4f27" stroke="#1a1a1a" stroke-width="1.0"/>
<rect x="340.59" y="262.67" width="14.36" height="64.24" fill="#8fd04a" stroke="#1a1a1a" stroke-width="1.0"/>
<rect x="340.59" y="258.1" width="14.36" height="4.57" fill="url(#pd)" stroke="#1a1a1a" stroke-width="1.0"/>
<line x1="34.8" x2="34.8" y1="258.1" y2="457" stroke="#949494" stroke-width="1"/>
<line x1="354.7" x2="354.7" y1="258.1" y2="457" stroke="#949494" stroke-width="1"/>
<line x1="34.8" x2="354.7" y1="457" y2="457" stroke="#949494" stroke-width="1"/>
<polyline points="41.75,378 55.66,381.4 83.48,432 153.02,418 180.84,433.5 222.57,412 250.38,392.7 278.2,338.7 319.93,318.7 347.75,277.3" fill="none" stroke="#000" stroke-width="2.4" stroke-linejoin="round" stroke-linecap="butt"/>
<text transform="translate(6.7,359) rotate(-90)" class="b" text-anchor="middle">Cell Proportion of Species</text>
<text transform="translate(382.6,356.6) rotate(-90)" class="b" text-anchor="middle">Concentration (10<tspan dy="-2.5" dx="0.4" font-size="5.2">6</tspan><tspan dy="2.5"> cells mL</tspan><tspan dy="-2.5" dx="1.6" font-size="5.2">-1</tspan><tspan dy="2.5">)</tspan></text>
<text x="8" y="484.4" class="b">50 µmol photons m<tspan dy="-2.6" font-size="5.2" dx="0.6">-2</tspan><tspan dy="2.6"> s</tspan><tspan dy="-2.6" font-size="5.2" dx="0.6">-1</tspan></text>
<text x="195.3" y="483.4" class="b" text-anchor="middle">Day</text>
</g>
<g id="p4">
<line x1="432.7" x2="755.6" y1="453.5" y2="453.5" stroke="#909090" stroke-width="1"/>
<line x1="432.7" x2="755.6" y1="433.65" y2="433.65" stroke="#909090" stroke-width="1"/>
<line x1="432.7" x2="755.6" y1="413.8" y2="413.8" stroke="#909090" stroke-width="1"/>
<line x1="432.7" x2="755.6" y1="393.95" y2="393.95" stroke="#909090" stroke-width="1"/>
<line x1="432.7" x2="755.6" y1="374.1" y2="374.1" stroke="#909090" stroke-width="1"/>
<line x1="432.7" x2="755.6" y1="354.25" y2="354.25" stroke="#909090" stroke-width="1"/>
<line x1="432.7" x2="755.6" y1="334.4" y2="334.4" stroke="#909090" stroke-width="1"/>
<line x1="432.7" x2="755.6" y1="314.55" y2="314.55" stroke="#909090" stroke-width="1"/>
<line x1="432.7" x2="755.6" y1="294.7" y2="294.7" stroke="#909090" stroke-width="1"/>
<line x1="432.7" x2="755.6" y1="274.85" y2="274.85" stroke="#909090" stroke-width="1"/>
<line x1="432.7" x2="755.6" y1="255" y2="255" stroke="#909090" stroke-width="1"/>
<line x1="435.3" x2="435.3" y1="453.5" y2="456.5" stroke="#949494" stroke-width="1"/>
<line x1="449.23" x2="449.23" y1="453.5" y2="456.5" stroke="#949494" stroke-width="1"/>
<line x1="463.15" x2="463.15" y1="453.5" y2="456.5" stroke="#949494" stroke-width="1"/>
<line x1="477.08" x2="477.08" y1="453.5" y2="456.5" stroke="#949494" stroke-width="1"/>
<line x1="491" x2="491" y1="453.5" y2="456.5" stroke="#949494" stroke-width="1"/>
<line x1="504.93" x2="504.93" y1="453.5" y2="456.5" stroke="#949494" stroke-width="1"/>
<line x1="518.86" x2="518.86" y1="453.5" y2="456.5" stroke="#949494" stroke-width="1"/>
<line x1="532.78" x2="532.78" y1="453.5" y2="456.5" stroke="#949494" stroke-width="1"/>
<line x1="546.71" x2="546.71" y1="453.5" y2="456.5" stroke="#949494" stroke-width="1"/>
<line x1="560.63" x2="560.63" y1="453.5" y2="456.5" stroke="#949494" stroke-width="1"/>
<line x1="574.56" x2="574.56" y1="453.5" y2="456.5" stroke="#949494" stroke-width="1"/>
<line x1="588.49" x2="588.49" y1="453.5" y2="456.5" stroke="#949494" stroke-width="1"/>
<line x1="602.41" x2="602.41" y1="453.5" y2="456.5" stroke="#949494" stroke-width="1"/>
<line x1="616.34" x2="616.34" y1="453.5" y2="456.5" stroke="#949494" stroke-width="1"/>
<line x1="630.27" x2="630.27" y1="453.5" y2="456.5" stroke="#949494" stroke-width="1"/>
<line x1="644.19" x2="644.19" y1="453.5" y2="456.5" stroke="#949494" stroke-width="1"/>
<line x1="658.12" x2="658.12" y1="453.5" y2="456.5" stroke="#949494" stroke-width="1"/>
<line x1="672.04" x2="672.04" y1="453.5" y2="456.5" stroke="#949494" stroke-width="1"/>
<line x1="685.97" x2="685.97" y1="453.5" y2="456.5" stroke="#949494" stroke-width="1"/>
<line x1="699.9" x2="699.9" y1="453.5" y2="456.5" stroke="#949494" stroke-width="1"/>
<line x1="713.82" x2="713.82" y1="453.5" y2="456.5" stroke="#949494" stroke-width="1"/>
<line x1="727.75" x2="727.75" y1="453.5" y2="456.5" stroke="#949494" stroke-width="1"/>
<line x1="741.67" x2="741.67" y1="453.5" y2="456.5" stroke="#949494" stroke-width="1"/>
<line x1="755.6" x2="755.6" y1="453.5" y2="456.5" stroke="#949494" stroke-width="1"/>
<line x1="755.6" x2="758.8" y1="453.5" y2="453.5" stroke="#949494" stroke-width="1"/>
<text x="763.1" y="456.4" class="t">0</text>
<line x1="755.6" x2="758.8" y1="420.42" y2="420.42" stroke="#949494" stroke-width="1"/>
<text x="763.1" y="423.32" class="t">10</text>
<line x1="755.6" x2="758.8" y1="387.33" y2="387.33" stroke="#949494" stroke-width="1"/>
<text x="763.1" y="390.23" class="t">20</text>
<line x1="755.6" x2="758.8" y1="354.25" y2="354.25" stroke="#949494" stroke-width="1"/>
<text x="763.1" y="357.15" class="t">30</text>
<line x1="755.6" x2="758.8" y1="321.17" y2="321.17" stroke="#949494" stroke-width="1"/>
<text x="763.1" y="324.07" class="t">40</text>
<line x1="755.6" x2="758.8" y1="288.08" y2="288.08" stroke="#949494" stroke-width="1"/>
<text x="763.1" y="290.98" class="t">50</text>
<line x1="755.6" x2="758.8" y1="255" y2="255" stroke="#949494" stroke-width="1"/>
<text x="763.1" y="257.9" class="t">60</text>
<text x="428.4" y="456.5" class="t" text-anchor="end">0%</text>
<text x="428.4" y="436.65" class="t" text-anchor="end">10%</text>
<text x="428.4" y="416.8" class="t" text-anchor="end">20%</text>
<text x="428.4" y="396.95" class="t" text-anchor="end">30%</text>
<text x="428.4" y="377.1" class="t" text-anchor="end">40%</text>
<text x="428.4" y="357.25" class="t" text-anchor="end">50%</text>
<text x="428.4" y="337.4" class="t" text-anchor="end">60%</text>
<text x="428.4" y="317.55" class="t" text-anchor="end">70%</text>
<text x="428.4" y="297.7" class="t" text-anchor="end">80%</text>
<text x="428.4" y="277.85" class="t" text-anchor="end">90%</text>
<text x="428.4" y="258" class="t" text-anchor="end">100%</text>
<text x="442.26" y="467.7" class="t" text-anchor="middle">0</text>
<text x="456.19" y="467.7" class="t" text-anchor="middle">1</text>
<text x="470.12" y="467.7" class="t" text-anchor="middle">2</text>
<text x="484.04" y="467.7" class="t" text-anchor="middle">3</text>
<text x="497.97" y="467.7" class="t" text-anchor="middle">4</text>
<text x="511.89" y="467.7" class="t" text-anchor="middle">5</text>
<text x="525.82" y="467.7" class="t" text-anchor="middle">6</text>
<text x="539.75" y="467.7" class="t" text-anchor="middle">7</text>
<text x="553.67" y="467.7" class="t" text-anchor="middle">8</text>
<text x="567.6" y="467.7" class="t" text-anchor="middle">9</text>
<text x="581.52" y="467.7" class="t" text-anchor="middle">10</text>
<text x="595.45" y="467.7" class="t" text-anchor="middle">11</text>
<text x="609.38" y="467.7" class="t" text-anchor="middle">12</text>
<text x="623.3" y="467.7" class="t" text-anchor="middle">13</text>
<text x="637.23" y="467.7" class="t" text-anchor="middle">14</text>
<text x="651.15" y="467.7" class="t" text-anchor="middle">15</text>
<text x="665.08" y="467.7" class="t" text-anchor="middle">16</text>
<text x="679.01" y="467.7" class="t" text-anchor="middle">17</text>
<text x="692.93" y="467.7" class="t" text-anchor="middle">18</text>
<text x="706.86" y="467.7" class="t" text-anchor="middle">19</text>
<text x="720.78" y="467.7" class="t" text-anchor="middle">20</text>
<text x="734.71" y="467.7" class="t" text-anchor="middle">21</text>
<text x="748.64" y="467.7" class="t" text-anchor="middle">22</text>
<rect x="435.1" y="334.8" width="14.38" height="118.7" fill="#0b74cc" stroke="#1a1a1a" stroke-width="1.0"/>
<rect x="435.1" y="290.33" width="14.38" height="44.46" fill="url(#pb)" stroke="#1a1a1a" stroke-width="1.0"/>
<rect x="435.1" y="275.25" width="14.38" height="15.09" fill="#0a4f27" stroke="#1a1a1a" stroke-width="1.0"/>
<rect x="435.1" y="261.75" width="14.38" height="13.5" fill="url(#pv)" stroke="#1a1a1a" stroke-width="1.0"/>
<rect x="435.1" y="259.57" width="14.38" height="2.18" fill="#8fd04a" stroke="#1a1a1a" stroke-width="1.0"/>
<rect x="435.1" y="255" width="14.38" height="4.57" fill="url(#pd)" stroke="#1a1a1a" stroke-width="1.0"/>
<rect x="449.48" y="345.32" width="13.93" height="108.18" fill="#0b74cc" stroke="#1a1a1a" stroke-width="1.0"/>
<rect x="449.48" y="302.24" width="13.93" height="43.07" fill="url(#pb)" stroke="#1a1a1a" stroke-width="1.0"/>
<rect x="449.48" y="271.28" width="13.93" height="30.97" fill="#0a4f27" stroke="#1a1a1a" stroke-width="1.0"/>
<rect x="449.48" y="260.36" width="13.93" height="10.92" fill="url(#pv)" stroke="#1a1a1a" stroke-width="1.0"/>
<rect x="449.48" y="259.37" width="13.93" height="0.99" fill="#8fd04a" stroke="#1a1a1a" stroke-width="1.0"/>
<rect x="449.48" y="255" width="13.93" height="4.37" fill="url(#pd)" stroke="#1a1a1a" stroke-width="1.0"/>
<rect x="476.88" y="452.51" width="14.38" height="0.99" fill="#0b74cc" stroke="#1a1a1a" stroke-width="1.0"/>
<rect x="476.88" y="429.68" width="14.38" height="22.83" fill="url(#pb)" stroke="#1a1a1a" stroke-width="1.0"/>
<rect x="476.88" y="267.7" width="14.38" height="161.98" fill="#0a4f27" stroke="#1a1a1a" stroke-width="1.0"/>
<rect x="476.88" y="265.92" width="14.38" height="1.79" fill="url(#pv)" stroke="#1a1a1a" stroke-width="1.0"/>
<rect x="476.88" y="262.15" width="14.38" height="3.77" fill="#8fd04a" stroke="#1a1a1a" stroke-width="1.0"/>
<rect x="476.88" y="255" width="14.38" height="7.15" fill="url(#pd)" stroke="#1a1a1a" stroke-width="1.0"/>
<rect x="546.51" y="398.32" width="14.38" height="55.18" fill="url(#pb)" stroke="#1a1a1a" stroke-width="1.0"/>
<rect x="546.51" y="300.65" width="14.38" height="97.66" fill="#0a4f27" stroke="#1a1a1a" stroke-width="1.0"/>
<rect x="546.51" y="257.58" width="14.38" height="43.07" fill="#8fd04a" stroke="#1a1a1a" stroke-width="1.0"/>
<rect x="546.51" y="255" width="14.38" height="2.58" fill="url(#pd)" stroke="#1a1a1a" stroke-width="1.0"/>
<rect x="574.36" y="405.86" width="14.38" height="47.64" fill="url(#pb)" stroke="#1a1a1a" stroke-width="1.0"/>
<rect x="574.36" y="271.48" width="14.38" height="134.38" fill="#0a4f27" stroke="#1a1a1a" stroke-width="1.0"/>
<rect x="574.36" y="258.37" width="14.38" height="13.1" fill="#8fd04a" stroke="#1a1a1a" stroke-width="1.0"/>
<rect x="574.36" y="255" width="14.38" height="3.37" fill="url(#pd)" stroke="#1a1a1a" stroke-width="1.0"/>
<rect x="616.14" y="331.82" width="14.38" height="121.68" fill="url(#pb)" stroke="#1a1a1a" stroke-width="1.0"/>
<rect x="616.14" y="283.39" width="14.38" height="48.43" fill="#0a4f27" stroke="#1a1a1a" stroke-width="1.0"/>
<rect x="616.14" y="262.54" width="14.38" height="20.84" fill="#8fd04a" stroke="#1a1a1a" stroke-width="1.0"/>
<rect x="616.14" y="255" width="14.38" height="7.54" fill="url(#pd)" stroke="#1a1a1a" stroke-width="1.0"/>
<rect x="643.99" y="339.56" width="14.38" height="113.94" fill="url(#pb)" stroke="#1a1a1a" stroke-width="1.0"/>
<rect x="643.99" y="288.75" width="14.38" height="50.82" fill="#0a4f27" stroke="#1a1a1a" stroke-width="1.0"/>
<rect x="643.99" y="287.36" width="14.38" height="1.39" fill="url(#pv)" stroke="#1a1a1a" stroke-width="1.0"/>
<rect x="643.99" y="263.34" width="14.38" height="24.02" fill="#8fd04a" stroke="#1a1a1a" stroke-width="1.0"/>
<rect x="643.99" y="255" width="14.38" height="8.34" fill="url(#pd)" stroke="#1a1a1a" stroke-width="1.0"/>
<rect x="671.84" y="275.64" width="14.38" height="177.86" fill="url(#pb)" stroke="#1a1a1a" stroke-width="1.0"/>
<rect x="671.84" y="265.92" width="14.38" height="9.73" fill="#0a4f27" stroke="#1a1a1a" stroke-width="1.0"/>
<rect x="671.84" y="257.58" width="14.38" height="8.34" fill="#8fd04a" stroke="#1a1a1a" stroke-width="1.0"/>
<rect x="671.84" y="255" width="14.38" height="2.58" fill="url(#pd)" stroke="#1a1a1a" stroke-width="1.0"/>
<rect x="713.62" y="319.12" width="14.38" height="134.38" fill="url(#pb)" stroke="#1a1a1a" stroke-width="1.0"/>
<rect x="713.62" y="292.12" width="14.38" height="27" fill="#0a4f27" stroke="#1a1a1a" stroke-width="1.0"/>
<rect x="713.62" y="274.06" width="14.38" height="18.06" fill="#8fd04a" stroke="#1a1a1a" stroke-width="1.0"/>
<rect x="713.62" y="255" width="14.38" height="19.06" fill="url(#pd)" stroke="#1a1a1a" stroke-width="1.0"/>
<rect x="741.47" y="310.78" width="14.38" height="142.72" fill="url(#pb)" stroke="#1a1a1a" stroke-width="1.0"/>
<rect x="741.47" y="278.42" width="14.38" height="32.36" fill="#0a4f27" stroke="#1a1a1a" stroke-width="1.0"/>
<rect x="741.47" y="276.84" width="14.38" height="1.59" fill="url(#pv)" stroke="#1a1a1a" stroke-width="1.0"/>
<rect x="741.47" y="269.29" width="14.38" height="7.54" fill="#8fd04a" stroke="#1a1a1a" stroke-width="1.0"/>
<rect x="741.47" y="255" width="14.38" height="14.29" fill="url(#pd)" stroke="#1a1a1a" stroke-width="1.0"/>
<line x1="435.3" x2="435.3" y1="255" y2="453.5" stroke="#949494" stroke-width="1"/>
<line x1="755.6" x2="755.6" y1="255" y2="453.5" stroke="#949494" stroke-width="1"/>
<line x1="435.3" x2="755.6" y1="453.5" y2="453.5" stroke="#949494" stroke-width="1"/>
<polyline points="442.26,432 456.19,434 484.04,410.4 553.67,393.5 581.52,388.4 623.3,387 651.15,397.4 679.01,292.7 720.78,339.2 748.64,303.5" fill="none" stroke="#000" stroke-width="2.4" stroke-linejoin="round" stroke-linecap="butt"/>
<text transform="translate(406.3,363.6) rotate(-90)" class="b" text-anchor="middle">Cell Proportion of Species</text>
<text transform="translate(783,353.1) rotate(-90)" class="b" text-anchor="middle">Concentration (10<tspan dy="-2.5" dx="0.4" font-size="5.2">6</tspan><tspan dy="2.5"> cells mL</tspan><tspan dy="-2.5" dx="1.6" font-size="5.2">-1</tspan><tspan dy="2.5">)</tspan></text>
<text x="408.5" y="482.4" class="b">1800 µmol photons m<tspan dy="-2.6" font-size="5.2" dx="0.6">-2</tspan><tspan dy="2.6"> s</tspan><tspan dy="-2.6" font-size="5.2" dx="0.6">-1</tspan></text>
<text x="595.7" y="479.6" class="b" text-anchor="middle">Day</text>
</g>
<g id="legend">
<rect x="215.5" y="500.8" width="405.3" height="49" fill="#fff" stroke="#555" stroke-width="1"/>
<line x1="215" x2="621.3" y1="550" y2="550" stroke="#111" stroke-width="1.2"/>
<rect x="239.5" y="512.5" width="15.3" height="6" fill="#0b74cc" stroke="#777" stroke-width="0.6"/>
<text x="256.6" y="519.2" class="l" textLength="70.3" lengthAdjust="spacingAndGlyphs">Cyanobacteria</text>
<rect x="330.2" y="512.5" width="15" height="6" fill="#f1f1f1" stroke="#777" stroke-width="0.6"/>
<text x="347.3" y="519.2" class="l" textLength="40" lengthAdjust="spacingAndGlyphs">Bacteria</text>
<rect x="420" y="512.5" width="15.4" height="6" fill="#0a4f27" stroke="#777" stroke-width="0.6"/>
<text x="436.6" y="519.2" class="l" textLength="62.2" lengthAdjust="spacingAndGlyphs">C reinhardtii</text>
<rect x="510" y="512.5" width="16.2" height="6" fill="#8c8c8c" stroke="#777" stroke-width="0.6"/>
<text x="527.5" y="519.2" class="l" textLength="46.9" lengthAdjust="spacingAndGlyphs">C vulgaris</text>
<rect x="239.5" y="532.8" width="15.3" height="6" fill="#8fd04a" stroke="#777" stroke-width="0.6"/>
<text x="256.6" y="539.5" class="l" textLength="50.4" lengthAdjust="spacingAndGlyphs">S obliquus</text>
<rect x="330.5" y="532.8" width="14.7" height="6" fill="#f4f4f4" stroke="#777" stroke-width="0.6"/>
<text x="347.3" y="539.5" class="l" textLength="40.7" lengthAdjust="spacingAndGlyphs">Diatoms</text>
<line x1="420" x2="435.4" y1="535.9" y2="535.9" stroke="#000" stroke-width="1.3"/>
<text x="436.6" y="539.5" class="l" textLength="51.4" lengthAdjust="spacingAndGlyphs">Total Cells</text>
</g>
</svg>
</body></html>
